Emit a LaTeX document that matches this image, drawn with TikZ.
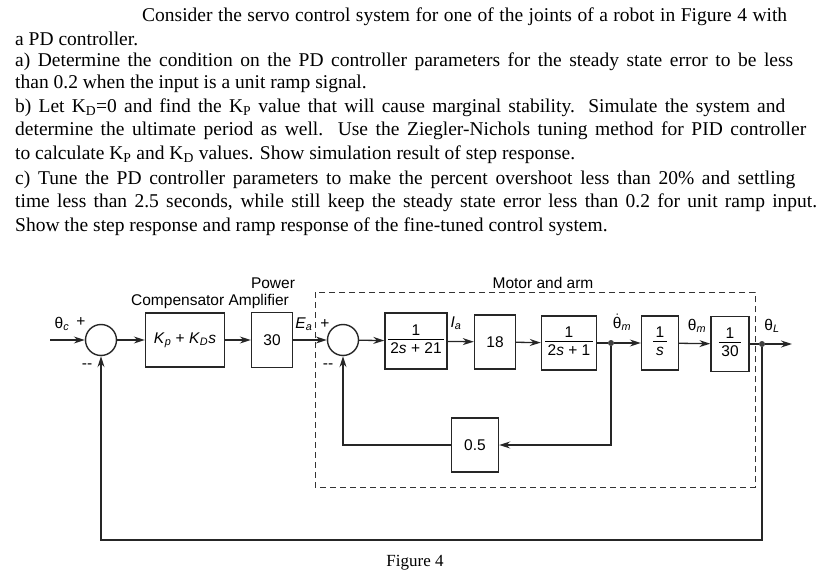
\documentclass[tikz,border=0pt]{standalone}
\usepackage{fontspec}
\setmainfont{Liberation Serif}
\newfontfamily\dsans{Liberation Sans}
\usetikzlibrary{arrows.meta}
\newcommand{\myfr}[2]{\begin{tabular}{@{\,}c@{\,}}#1\\[-2pt]\hline\rule{0pt}{14pt}#2\end{tabular}}
\newcommand{\jl}[2]{\makebox[#1pt][s]{#2}}
\begin{document}
\begin{tikzpicture}[x=1pt,y=-1pt,
  txt/.style={anchor=west,inner sep=0pt,font=\fontsize{19.5}{22}\selectfont},
  blk/.style={draw=black!85,line width=1.4pt,inner sep=0pt,font=\dsans\fontsize{15.5}{17}\selectfont},
  sum/.style={draw=black!85,line width=1.4pt,circle,minimum size=31pt,inner sep=0pt},
  lab/.style={inner sep=0pt,font=\dsans\fontsize{15.5}{17}\selectfont},
  sig/.style={draw=black!85,line width=1.3pt,-{Stealth[length=11pt,width=7pt]}},
  ln/.style={draw=black!85,line width=1.3pt},
  dot/.style={circle,fill=black!75,inner sep=0pt,minimum size=6pt}]
\useasboundingbox (0,0) rectangle (837,585);
% text
\node[txt] (t1) at (142,17) {\jl{645}{Consider the servo control system for one of the joints of a robot in Figure 4 with}};
\node[txt] (t2) at (15,39) {a PD controller.};
\node[txt] (t3) at (15,62) {\jl{778}{a) Determine the condition on the PD controller parameters for the steady state error to be less}};
\node[txt] (t4) at (15,84) {than 0.2 when the input is a unit ramp signal.};
\node[txt] (t5) at (15,108) {\jl{770}{b) Let K\textsubscript{D}=0 and find the K\textsubscript{P} value that will cause marginal stability. Simulate the system and}};
\node[txt] (t6) at (15,131) {\jl{791}{determine the ultimate period as well. Use the Ziegler-Nichols tuning method for PID controller}};
\node[txt] (t7) at (15,155) {to calculate K\textsubscript{P} and K\textsubscript{D} values. Show simulation result of step response.};
\node[txt] (t8) at (15,180) {\jl{780}{c) Tune the PD controller parameters to make the percent overshoot less than 20\% and settling}};
\node[txt] (t9) at (15,203) {\jl{802}{time less than 2.5 seconds, while still keep the steady state error less than 0.2 for unit ramp input.}};
\node[txt] (t10) at (15,227) {Show the step response and ramp response of the fine-tuned control system.};
% dashed box
\draw[black!80,line width=0.9pt,dash pattern=on 6pt off 4pt] (315,292) rectangle (755,487);
% blocks
\coordinate (in) at (50,340);
\node[sum] (s1) at (101,340) {};
\node[blk,minimum width=79pt,minimum height=54pt] (kp) at (185,340) {\textit{K}\textsubscript{\textit{p}} + \textit{K}\textsubscript{\textit{D}}\textit{s}};
\node[blk,minimum width=41pt,minimum height=55pt] (amp) at (272,340) {30};
\node[sum] (s2) at (343,340) {};
\node[blk,minimum width=62pt,minimum height=56pt] (g1) at (416,341) {\myfr{1}{2\textit{s} + 21}};
\node[blk,minimum width=41pt,minimum height=54pt] (g2) at (495,342) {18};
\node[blk,minimum width=55pt,minimum height=54pt] (g3) at (569,343) {\myfr{1}{2\textit{s} + 1}};
\node[dot] (d1) at (611,343) {};
\node[blk,minimum width=37pt,minimum height=54pt] (g4) at (660,343) {\myfr{1}{\textit{s}}};
\node[blk,minimum width=38pt,minimum height=55pt] (g5) at (730,344) {\myfr{1}{30}};
\node[dot] (d2) at (762,344) {};
\coordinate (out) at (792,344);
\node[blk,minimum width=47pt,minimum height=54pt] (fb) at (475,445) {0.5};
\coordinate (c1) at (611,445);
\coordinate (c2) at (343,445);
\coordinate (c3) at (762,540);
\coordinate (c4) at (101,540);
% connectors
\draw[sig] (in) -- (s1);
\draw[sig] (s1) -- (kp);
\draw[sig] (kp) -- (amp);
\draw[sig] (amp) -- (s2);
\draw[sig] (s2) -- (g1);
\draw[sig] (g1) -- (g2);
\draw[sig] (g2) -- (g3);
\draw[ln] (g3) -- (d1);
\draw[sig] (d1) -- (g4);
\draw[sig] (g4) -- (g5);
\draw[ln] (g5) -- (d2);
\draw[sig] (d2) -- (out);
\draw[sig] (d1) -- (c1) -- (fb);
\draw[sig] (fb) -- (c2) -- (s2);
\draw[sig] (d2) -- (c3) -- (c4) -- (s1);
% labels
\node[lab] (l1) at (62,324) {θ\textsubscript{\textit{c}}};
\node[lab] (l2) at (81,322) {+};
\node[lab] (l3) at (87,366) {--};
\node[lab] (l4) at (325,324) {+};
\node[lab] (l5) at (328,366) {--};
\node[lab] (l6) at (304,324) {\textit{E}\textsubscript{\textit{a}}};
\node[lab] (l7) at (456,323) {\textit{I}\textsubscript{\textit{a}}};
\node[lab] (l8) at (622,322) {$\dot{\mbox{θ}}$\textsubscript{\textit{m}}};
\node[lab] (l9) at (697,326) {θ\textsubscript{\textit{m}}};
\node[lab] (l10) at (772,326) {θ\textsubscript{\textit{L}}};
\node[lab] (l11) at (273,283) {Power};
\node[lab] (l12) at (210,301) {Compensator Amplifier};
\node[lab] (l13) at (543,283) {Motor and arm};
\node[inner sep=0pt,font=\fontsize{17}{19}\selectfont] (fig) at (415,563) {Figure 4};
\end{tikzpicture}
\end{document}
